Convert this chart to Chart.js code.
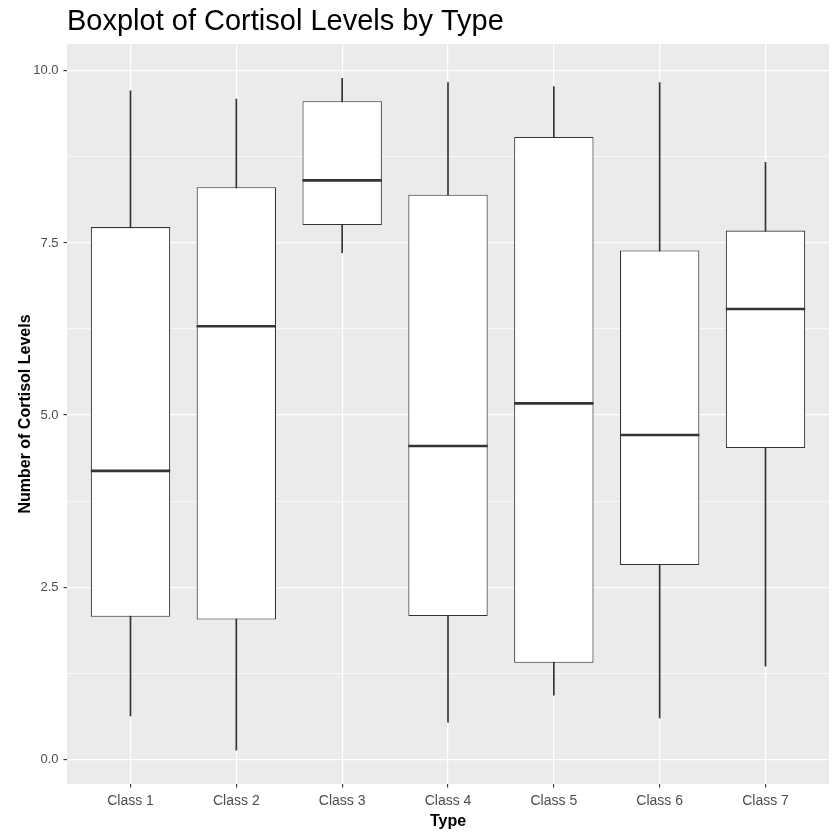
<!DOCTYPE html>
<html>
<head>
<meta charset="utf-8">
<script src="https://cdn.jsdelivr.net/npm/chart.js@4"></script>
<style>
  body { margin: 0; background: #ffffff; }
  #wrap { width: 840px; height: 840px; }
</style>
</head>
<body>
<div id="wrap"><canvas id="myChart"></canvas></div>
<script>
const classes = ["Class 1", "Class 2", "Class 3", "Class 4", "Class 5", "Class 6", "Class 7"];
const classPos = [1, 2, 3, 4, 5, 6, 7];

// five number summary
const whiskerLow = [0.63, 0.13, 7.36, 0.54, 0.93, 0.60, 1.35];
const q1 = [2.07, 2.03, 7.76, 2.08, 1.40, 2.82, 4.52];
const medians = [4.19, 6.29, 8.41, 4.55, 5.17, 4.71, 6.54];
const q3 = [7.73, 8.31, 9.56, 8.20, 9.04, 7.39, 7.68];
const whiskerHigh = [9.71, 9.59, 9.89, 9.83, 9.77, 9.83, 8.67];

const yTicks = [0, 1.25, 2.5, 3.75, 5, 6.25, 7.5, 8.75, 10];
const yTickLabels = ["0.0", "", "2.5", "", "5.0", "", "7.5", "", "10.0"];

const font = "'Liberation Sans', Arial, sans-serif";

function isMajor(ctx) {
  return ctx.tick && yTicks.indexOf(ctx.tick.value) % 2 == 0;
}

// grey panel like ggplot
const panelBg = {
  id: "panelBg",
  beforeDraw(chart) {
    let c = chart.ctx;
    let a = chart.chartArea;
    c.save();
    c.fillStyle = "#ffffff";
    c.fillRect(0, 0, chart.width, chart.height);
    c.fillStyle = "#EBEBEB";
    c.fillRect(a.left, a.top, a.right - a.left, a.bottom - a.top);
    c.restore();
  },
};

// median line across each box
const medianLines = {
  id: "medianLines",
  afterDatasetsDraw(chart) {
    let c = chart.ctx;
    let meta = chart.getDatasetMeta(0);
    let y = chart.scales.y;
    c.save();
    c.strokeStyle = "#333333";
    c.lineWidth = 2.7;
    meta.data.forEach((bar, i) => {
      let py = y.getPixelForValue(medians[i]);
      c.beginPath();
      c.moveTo(bar.x - bar.width / 2, py);
      c.lineTo(bar.x + bar.width / 2, py);
      c.stroke();
    });
    c.restore();
  },
};

new Chart("myChart", {
  type: "bar",
  data: {
    datasets: [
      {
        label: "box",
        data: classPos.map((x, i) => ({ x: x, y: [q1[i], q3[i]] })),
        backgroundColor: "#ffffff",
        borderColor: "#333333",
        borderWidth: 1.1,
        borderSkipped: false,
        grouped: false,
        categoryPercentage: 0.75,
        barPercentage: 1,
        order: 1,
      },
      {
        label: "whisker",
        data: classPos.map((x, i) => ({ x: x, y: [whiskerLow[i], whiskerHigh[i]] })),
        backgroundColor: "#333333",
        borderWidth: 0,
        grouped: false,
        barThickness: 1,
        order: 2,
      },
    ],
  },
  options: {
    responsive: true,
    maintainAspectRatio: false,
    devicePixelRatio: 1,
    animation: false,
    layout: { padding: { left: 0, right: 11, top: 0, bottom: 0 } },
    plugins: {
      legend: { display: false },
      tooltip: { enabled: false },
      title: {
        display: true,
        text: "Boxplot of Cortisol Levels by Type",
        align: "start",
        fullSize: false,
        color: "#000000",
        font: { family: font, size: 29, weight: "normal" },
        padding: { top: 4.9, bottom: 4.3 },
      },
    },
    scales: {
      x: {
        type: "linear",
        min: 0.4,
        max: 7.6,
        offset: false,
        afterBuildTicks: (scale) => {
          scale.ticks = classPos.map((v) => ({ value: v }));
        },
        afterFit: (scale) => {
          scale.height = 56;
        },
        ticks: {
          autoSkip: false,
          padding: 5,
          color: "#4D4D4D",
          font: { family: font, size: 14 },
          callback: (v) => classes[classPos.indexOf(v)],
        },
        grid: {
          offset: false,
          color: "#ffffff",
          lineWidth: 1.2,
          tickColor: "#333333",
          tickLength: 3.5,
          tickWidth: 1.1,
        },
        border: { display: false },
        title: {
          display: true,
          text: "Type",
          color: "#000000",
          font: { family: font, size: 16, weight: "bold" },
          padding: { top: 0, bottom: 9 },
        },
      },
      y: {
        min: -0.36,
        max: 10.39,
        afterBuildTicks: (scale) => {
          scale.ticks = yTicks.map((v) => ({ value: v }));
        },
        afterFit: (scale) => {
          scale.width = 67;
        },
        ticks: {
          autoSkip: false,
          padding: 5,
          color: "#4D4D4D",
          font: { family: font, size: 13 },
          callback: (v) => yTickLabels[yTicks.indexOf(v)],
        },
        grid: {
          color: "#ffffff",
          lineWidth: (ctx) => (isMajor(ctx) ? 1.2 : 0.7),
          tickColor: (ctx) => (isMajor(ctx) ? "#333333" : "rgba(0,0,0,0)"),
          tickLength: 3.5,
          tickWidth: 1.1,
        },
        border: { display: false },
        title: {
          display: true,
          text: "Number of Cortisol Levels",
          color: "#000000",
          font: { family: font, size: 16, weight: "bold" },
          padding: { top: 16.4, bottom: 0 },
        },
      },
    },
  },
  plugins: [panelBg, medianLines],
});
</script>
</body>
</html>
